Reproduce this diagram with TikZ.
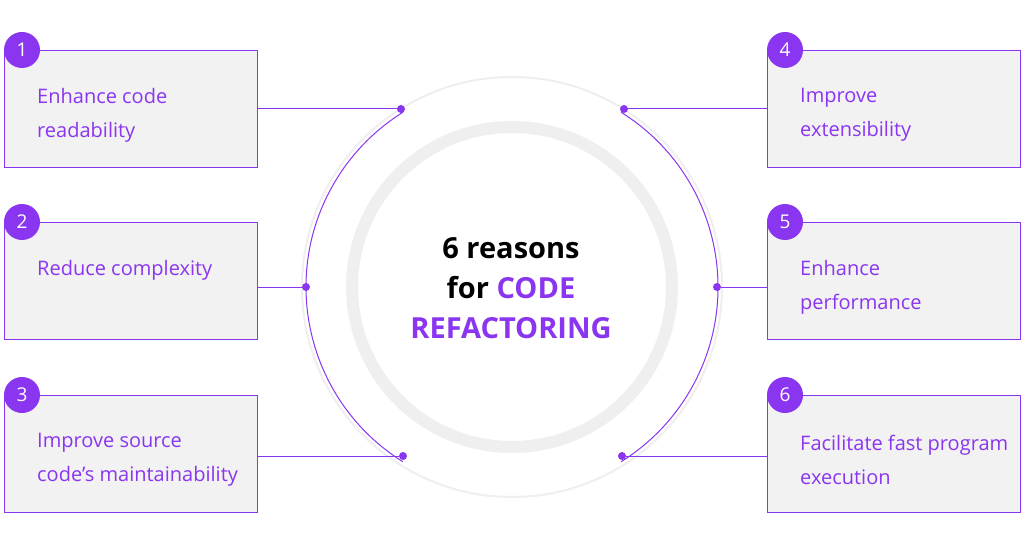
\documentclass[tikz,border=0pt]{standalone}
\usepackage{fontspec}
\setmainfont{Open Sans}
\definecolor{pur}{HTML}{8A35F0}
\definecolor{boxg}{HTML}{F2F2F2}
\definecolor{ringg}{HTML}{EFEFEF}
\begin{document}
\begin{tikzpicture}[x=1pt,y=-1pt,
  rbox/.style={draw=pur,fill=boxg,line width=0.8pt,minimum width=253pt,minimum height=117pt,anchor=north west},
  num/.style={circle,fill=pur,text=white,minimum size=36pt,inner sep=0pt,font=\fontsize{19}{19}\selectfont},
  lbl/.style={text=pur,font=\fontsize{20}{34}\selectfont,align=left,anchor=west,inner sep=0pt},
  dot/.style={circle,fill=pur,inner sep=0pt,minimum size=8pt},
  conn/.style={draw=pur,line width=1pt}]
\useasboundingbox (0,0) rectangle (1024,548);
\fill[white] (0,0) rectangle (1024,548);
\coordinate (c) at (512,287);
\draw[ringg,line width=2pt] (c) circle (210);
\draw[ringg,line width=12pt] (c) circle (160);
\draw[pur,line width=1pt] (c) ++(122:206) arc[start angle=122,end angle=238,radius=206];
\draw[pur,line width=1pt] (c) ++(-58:206) arc[start angle=-58,end angle=58,radius=206];
\node[font=\bfseries\fontsize{29}{40}\selectfont,align=center] (t) at (511,288) {6 reasons\\for \textcolor{pur}{CODE}\\\textcolor{pur}{REFACTORING}};
\node[rbox] (b1) at (4,50) {};
\node[rbox] (b2) at (4,222) {};
\node[rbox] (b3) at (4,395) {};
\node[rbox] (b4) at (767,50) {};
\node[rbox] (b5) at (767,222) {};
\node[rbox] (b6) at (767,395) {};
\node[num] (n1) at (22,50) {1};
\node[num] (n2) at (22,222) {2};
\node[num] (n3) at (22,395) {3};
\node[num] (n4) at (785,50) {4};
\node[num] (n5) at (785,222) {5};
\node[num] (n6) at (785,395) {6};
\node[lbl] (l1) at (37,115) {Enhance code\\readability};
\node[lbl] (l2) at (37,270) {Reduce complexity};
\node[lbl] (l3) at (37,460) {Improve source\\code’s maintainability};
\node[lbl] (l4) at (800,115) {Improve\\extensibility};
\node[lbl] (l5) at (800,287) {Enhance\\performance};
\node[lbl] (l6) at (800,460) {Facilitate fast program\\execution};
\node[dot] (d1) at (401,109) {};
\node[dot] (d2) at (306,287) {};
\node[dot] (d3) at (403,456) {};
\node[dot] (d4) at (624,109) {};
\node[dot] (d5) at (717,287) {};
\node[dot] (d6) at (622,456) {};
\draw[conn] (b1.east |- d1) -- (d1);
\draw[conn] (b2.east |- d2) -- (d2);
\draw[conn] (b3.east |- d3) -- (d3);
\draw[conn] (d4) -- (b4.west |- d4);
\draw[conn] (d5) -- (b5.west |- d5);
\draw[conn] (d6) -- (b6.west |- d6);
\end{tikzpicture}
\end{document}
